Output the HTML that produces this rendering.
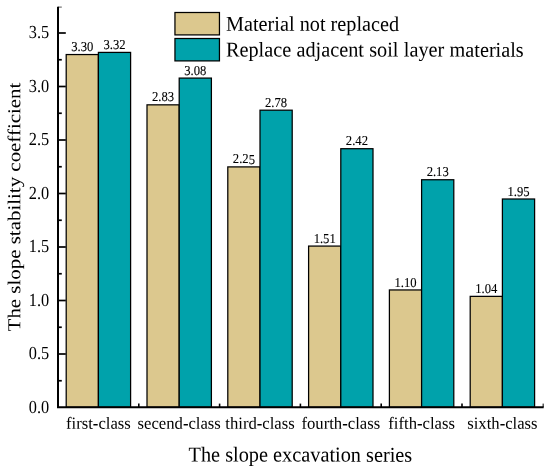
<!DOCTYPE html>
<html lang="en"><head><meta charset="utf-8"><title>Slope stability coefficient chart</title>
<style>html,body{margin:0;padding:0;background:#fff}svg{display:block}text{font-family:"Liberation Serif",serif;fill:#000;text-rendering:geometricPrecision}</style></head><body>
<svg width="550" height="474" viewBox="0 0 550 474">
<rect width="550" height="474" fill="#fff"/>
<g stroke="#000" fill="none">
<line x1="58.0" y1="380.75" x2="61.80" y2="380.75" stroke-width="1.7"/>
<line x1="58.0" y1="354.00" x2="65.80" y2="354.00" stroke-width="1.7"/>
<line x1="58.0" y1="327.25" x2="61.80" y2="327.25" stroke-width="1.7"/>
<line x1="58.0" y1="300.50" x2="65.80" y2="300.50" stroke-width="1.7"/>
<line x1="58.0" y1="273.75" x2="61.80" y2="273.75" stroke-width="1.7"/>
<line x1="58.0" y1="247.00" x2="65.80" y2="247.00" stroke-width="1.7"/>
<line x1="58.0" y1="220.25" x2="61.80" y2="220.25" stroke-width="1.7"/>
<line x1="58.0" y1="193.50" x2="65.80" y2="193.50" stroke-width="1.7"/>
<line x1="58.0" y1="166.75" x2="61.80" y2="166.75" stroke-width="1.7"/>
<line x1="58.0" y1="140.00" x2="65.80" y2="140.00" stroke-width="1.7"/>
<line x1="58.0" y1="113.25" x2="61.80" y2="113.25" stroke-width="1.7"/>
<line x1="58.0" y1="86.50" x2="65.80" y2="86.50" stroke-width="1.7"/>
<line x1="58.0" y1="59.75" x2="61.80" y2="59.75" stroke-width="1.7"/>
<line x1="58.0" y1="33.00" x2="65.80" y2="33.00" stroke-width="1.7"/>
<line x1="58.0" y1="7.1" x2="61.80" y2="7.1" stroke-width="1" stroke="#555"/>
<line x1="138.80" y1="407.3" x2="138.80" y2="403.60" stroke-width="1.6"/>
<line x1="219.60" y1="407.3" x2="219.60" y2="403.60" stroke-width="1.6"/>
<line x1="300.40" y1="407.3" x2="300.40" y2="403.60" stroke-width="1.6"/>
<line x1="381.20" y1="407.3" x2="381.20" y2="403.60" stroke-width="1.6"/>
<line x1="462.00" y1="407.3" x2="462.00" y2="403.60" stroke-width="1.6"/>
<line x1="543.15" y1="407.3" x2="543.15" y2="403.60" stroke-width="1"/>
</g>
<g stroke="#000" stroke-width="1.25">
<rect x="66.20" y="54.55" width="32.20" height="352.75" fill="#DCC88E"/>
<rect x="98.40" y="52.41" width="32.20" height="354.89" fill="#00A2AB"/>
<rect x="147.00" y="104.84" width="32.20" height="302.46" fill="#DCC88E"/>
<rect x="179.20" y="78.09" width="32.20" height="329.21" fill="#00A2AB"/>
<rect x="227.80" y="166.90" width="32.20" height="240.40" fill="#DCC88E"/>
<rect x="260.00" y="110.19" width="32.20" height="297.11" fill="#00A2AB"/>
<rect x="308.60" y="246.08" width="32.20" height="161.22" fill="#DCC88E"/>
<rect x="340.80" y="148.71" width="32.20" height="258.59" fill="#00A2AB"/>
<rect x="389.40" y="289.95" width="32.20" height="117.35" fill="#DCC88E"/>
<rect x="421.60" y="179.74" width="32.20" height="227.56" fill="#00A2AB"/>
<rect x="470.20" y="296.37" width="32.20" height="110.93" fill="#DCC88E"/>
<rect x="502.40" y="199.00" width="32.20" height="208.30" fill="#00A2AB"/>
</g>
<path d="M58.0 6.8V407.3H543.65" fill="none" stroke="#000" stroke-width="2" stroke-linejoin="miter"/>
<g font-size="13.6" text-anchor="middle" stroke="#000" stroke-width="0.1">
<text transform="translate(82.30 51.15) rotate(0.03) scale(0.93 1)">3.30</text>
<text transform="translate(114.50 49.01) rotate(0.03) scale(0.93 1)">3.32</text>
<text transform="translate(163.10 101.44) rotate(0.03) scale(0.93 1)">2.83</text>
<text transform="translate(195.30 74.69) rotate(0.03) scale(0.93 1)">3.08</text>
<text transform="translate(243.90 163.50) rotate(0.03) scale(0.93 1)">2.25</text>
<text transform="translate(276.10 106.79) rotate(0.03) scale(0.93 1)">2.78</text>
<text transform="translate(324.70 242.68) rotate(0.03) scale(0.93 1)">1.51</text>
<text transform="translate(356.90 145.31) rotate(0.03) scale(0.93 1)">2.42</text>
<text transform="translate(405.50 286.55) rotate(0.03) scale(0.93 1)">1.10</text>
<text transform="translate(437.70 176.34) rotate(0.03) scale(0.93 1)">2.13</text>
<text transform="translate(486.30 292.97) rotate(0.03) scale(0.93 1)">1.04</text>
<text transform="translate(518.50 195.60) rotate(0.03) scale(0.93 1)">1.95</text>
</g>
<g font-size="18.4" text-anchor="end">
<text transform="translate(49.20 412.90) rotate(0.03) scale(0.885 1)">0.0</text>
<text transform="translate(49.20 359.40) rotate(0.03) scale(0.885 1)">0.5</text>
<text transform="translate(49.20 305.90) rotate(0.03) scale(0.885 1)">1.0</text>
<text transform="translate(49.20 252.40) rotate(0.03) scale(0.885 1)">1.5</text>
<text transform="translate(49.20 198.90) rotate(0.03) scale(0.885 1)">2.0</text>
<text transform="translate(49.20 145.40) rotate(0.03) scale(0.885 1)">2.5</text>
<text transform="translate(49.20 91.90) rotate(0.03) scale(0.885 1)">3.0</text>
<text transform="translate(49.20 38.40) rotate(0.03) scale(0.885 1)">3.5</text>
</g>
<g font-size="17.0" text-anchor="middle">
<text transform="translate(98.40 428.70) rotate(0.03) scale(0.98 1)">first-class</text>
<text transform="translate(179.20 428.70) rotate(0.03) scale(0.98 1)">secend-class</text>
<text transform="translate(260.00 428.70) rotate(0.03) scale(0.98 1)">third-class</text>
<text transform="translate(340.80 428.70) rotate(0.03) scale(0.98 1)">fourth-class</text>
<text transform="translate(421.60 428.70) rotate(0.03) scale(0.98 1)">fifth-class</text>
<text transform="translate(502.40 428.70) rotate(0.03) scale(0.98 1)">sixth-class</text>
</g>
<text transform="translate(300.40 461.60) rotate(0.03) scale(0.962 1)" font-size="21.1" text-anchor="middle">The slope excavation series</text>
<text transform="translate(20.30 207.00) rotate(-89.97) scale(1.15 1)" font-size="18.2" text-anchor="middle">The slope stability coefficient</text>
<g stroke="#000" stroke-width="1.25">
<rect x="174.95" y="12.5" width="44.5" height="22.4" fill="#DCC88E"/>
<rect x="174.95" y="38.5" width="44.5" height="22.4" fill="#00A2AB"/>
</g>
<text transform="translate(226.00 30.80) rotate(0.03) scale(0.964 1)" font-size="21.0">Material not replaced</text>
<text transform="translate(226.00 56.50) rotate(0.03) scale(0.964 1)" font-size="21.0" word-spacing="0.25">Replace adjacent soil layer materials</text>
</svg></body></html>
